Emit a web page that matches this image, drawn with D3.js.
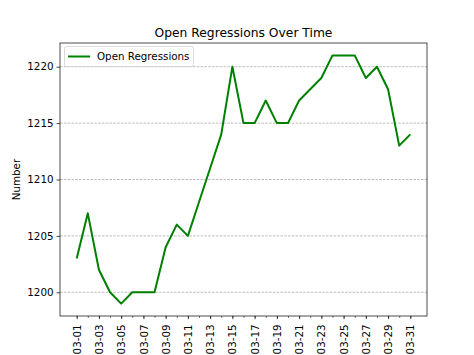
<!DOCTYPE html>
<html><head><meta charset="utf-8">
<script src="https://cdn.jsdelivr.net/npm/d3@7"></script>
<style>body{margin:0;background:#fff}svg{display:block}text{font-family:"DejaVu Sans",sans-serif;fill:#000}</style>
</head><body><svg id="c" width="474" height="355"></svg>
<script>
const dates = ["2023-03-01","2023-03-02","2023-03-03","2023-03-04","2023-03-05","2023-03-06","2023-03-07","2023-03-08","2023-03-09","2023-03-10","2023-03-11","2023-03-12","2023-03-13","2023-03-14","2023-03-15","2023-03-16","2023-03-17","2023-03-18","2023-03-19","2023-03-20","2023-03-21","2023-03-22","2023-03-23","2023-03-24","2023-03-25","2023-03-26","2023-03-27","2023-03-28","2023-03-29","2023-03-30","2023-03-31"];
const openRegressions = [1203,1207,1202,1200,1199,1200,1200,1200,1204,1206,1205,1208,1211,1214,1220,1215,1215,1217,1215,1215,1217,1218,1219,1221,1221,1221,1219,1220,1218,1213,1214];
const yTicks = [1200,1205,1210,1215,1220];
const title = "Open Regressions Over Time";
const yLabel = "Number";
const seriesName = "Open Regressions";

const svg = d3.select("#c");
const L=60,R=427,T=43,B=316;
const parse = d3.utcParse("%Y-%m-%d");
const data = dates.map((d,i)=>({d:parse(d),v:openRegressions[i]}));
const t0 = data[0].d, t1 = data[data.length-1].d;
const span = t1 - t0;
const x = d3.scaleUtc().domain([new Date(+t0 - span*0.05), new Date(+t1 + span*0.05)]).range([L,R]);
const ext = d3.extent(openRegressions), ys = ext[1]-ext[0];
const y = d3.scaleLinear().domain([ext[0]-ys*0.05, ext[1]+ys*0.05]).range([B,T]);

// grid
svg.append("g").selectAll("line").data(yTicks).join("line")
  .attr("x1",L).attr("x2",R).attr("y1",d=>y(d)).attr("y2",d=>y(d))
  .attr("stroke","#a8a8a8").attr("stroke-width",0.75).attr("stroke-dasharray","2.6,1.2");

// y axis
const yAxis = d3.axisLeft(y).tickValues(yTicks).tickSize(3.5).tickPadding(3).tickFormat(d3.format("d"));
const gy = svg.append("g").attr("transform",`translate(${L},0)`).call(yAxis);
gy.select(".domain").remove();
gy.selectAll("text").style("font-size","10.3px");
gy.selectAll("line").attr("stroke-width",0.7);

// x axis minor
const allDays = data.map(d=>d.d);
const major = allDays.filter((d,i)=>i%2===0);
const gxm = svg.append("g").attr("transform",`translate(0,${B})`)
  .call(d3.axisBottom(x).tickValues(allDays).tickSize(2).tickFormat(""));
gxm.select(".domain").remove();
gxm.selectAll("line").attr("stroke-width",0.5);
const gx = svg.append("g").attr("transform",`translate(0,${B})`)
  .call(d3.axisBottom(x).tickValues(major).tickSize(3.2).tickFormat(d3.utcFormat("%Y-%m-%d")));
gx.select(".domain").remove();
gx.selectAll("line").attr("stroke-width",0.7);
gx.selectAll("text").style("font-size","10.3px")
  .attr("transform","rotate(-90)").attr("text-anchor","end")
  .attr("x",-8.5).attr("y",0).attr("dy","0.35em");

// frame
svg.append("rect").attr("x",L).attr("y",T).attr("width",R-L).attr("height",B-T)
  .attr("fill","none").attr("stroke","#000").attr("stroke-width",0.7);

// line
svg.append("path").datum(data)
  .attr("d",d3.line().x(d=>x(d.d)).y(d=>y(d.v)))
  .attr("fill","none").attr("stroke","#008000").attr("stroke-width",2).attr("stroke-linejoin","round");

// title
svg.append("text").attr("x",(L+R)/2).attr("y",T-6).attr("text-anchor","middle").style("font-size","12.3px").text(title);
// y label
svg.append("text").attr("transform",`translate(20,${(T+B)/2}) rotate(-90)`).attr("text-anchor","middle").style("font-size","10.3px").text(yLabel);

// legend
const lg = svg.append("g");
lg.append("rect").attr("x",64.5).attr("y",46.5).attr("width",129).attr("height",20).attr("rx",2)
  .attr("fill","#fff").attr("fill-opacity",0.8).attr("stroke","#cccccc").attr("stroke-width",0.7);
lg.append("line").attr("x1",68).attr("x2",90).attr("y1",56.5).attr("y2",56.5).attr("stroke","#008000").attr("stroke-width",2);
lg.append("text").attr("x",97).attr("y",56.5).attr("dy","0.35em").style("font-size","10.3px").text(seriesName);
</script></body></html>
